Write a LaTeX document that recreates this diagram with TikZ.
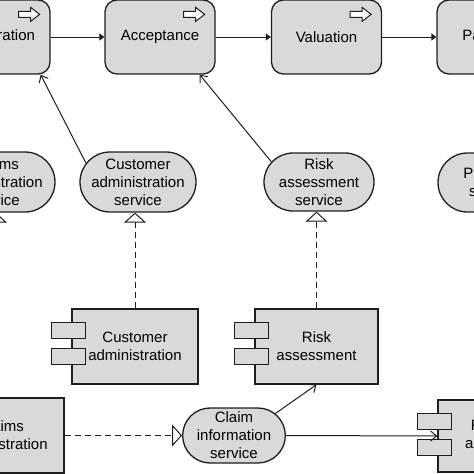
\documentclass[tikz,border=0pt]{standalone}
\usepackage{fontspec}
\setmainfont{Liberation Sans}
\usetikzlibrary{arrows.meta,calc,shapes.misc}
\definecolor{boxgray}{RGB}{217,217,217}
\definecolor{edge}{RGB}{30,30,30}
\begin{document}
\begin{tikzpicture}[x=1pt,y=-1pt,
  font=\fontsize{15}{18}\selectfont,
  proc/.style={rectangle, rounded corners=12pt, draw=edge, fill=boxgray, line width=1.3pt, minimum width=110pt, minimum height=74pt, inner sep=0pt},
  serv/.style={rounded rectangle, draw=edge, fill=boxgray, line width=1.3pt, align=center, inner sep=1pt},
  comp/.style={rectangle, draw=edge, fill=boxgray, line width=1.3pt, align=center, minimum width=126pt, minimum height=75pt, inner sep=0pt},
  tabbox/.style={draw=edge, fill=boxgray, line width=1.3pt},
  glyph/.style={draw=edge, fill=white, line width=1pt, line join=miter},
  trig/.style={draw=edge, line width=1pt, -{Triangle[length=5pt,width=7pt]}},
  used/.style={draw=edge, line width=1pt, -{Straight Barb[length=6pt,width=10pt]}},
  real/.style={draw=edge, line width=1pt, dash pattern=on 6pt off 4pt, -{Triangle[open,length=10pt,width=22pt,fill=white]}}
]
\useasboundingbox (0,0) rectangle (474,474);
\clip (0,0) rectangle (474,474);

% business processes
\node[proc] (reg) at (-5,37) {Registration};
\node[proc] (acc) at (160,37) {Acceptance};
\node[proc] (val) at (326.5,37) {Valuation};
\node[proc] (pay) at (492,37) {Payment};
\foreach \n in {reg,acc,val,pay} {
  \draw[glyph] ($(\n.north east)+(-32,12)$) -- ++(12,0) -- ++(0,-4) -- ++(9,7) -- ++(-9,7) -- ++(0,-4) -- ++(-12,0) -- cycle;
}

% application services
\node[serv, minimum width=120pt, minimum height=60pt] (clas) at (-4,182) {Claims\\administration\\service};
\node[serv, minimum width=118pt, minimum height=60pt] (cas) at (138,182) {Customer\\administration\\service};
\node[serv, minimum width=112pt, minimum height=58pt] (ras) at (319,182) {Risk\\assessment\\service};
\node[serv, minimum width=112pt, minimum height=59pt] (pas) at (493,182.5) {Payment\\service};

% application components
\node[comp] (cac) at (135,346.5) {Customer\\administration};
\node[comp, minimum width=123pt] (rac) at (316.5,346.5) {Risk\\assessment};
\node[comp] (cla) at (1,435.5) {Claims\\administration};
\node[comp, minimum height=72pt] (fin) at (501,436) {Financial\\application};
\foreach \c in {cac,rac,cla,fin} {
  \draw[tabbox] ($(\c.north west)+(-20,14)$) rectangle ++(34,16);
  \draw[tabbox] ($(\c.north west)+(-20,40)$) rectangle ++(34,16);
}

% claim information service
\node[serv, minimum width=102pt, minimum height=55pt] (cis) at (234,435.5) {Claim\\information\\service};

% triggering
\draw[trig] (reg.east) -- (acc.west);
\draw[trig] (acc.east) -- (val.west);
\draw[trig] (val.east) -- (pay.west);

% used by
\draw[used] (cas.160) -- ($(reg.south east)+(-10,0)$);
\draw[used] (ras.157) -- ($(acc.south east)+(-16,0)$);
\draw[used] (cis.28) -- (rac.south);
\draw[used] (cis.east) -- (fin.west);

% realization
\draw[real] (cac.north) -- (cac.north |- cas.south);
\draw[real] (rac.north) -- (rac.north |- ras.south);
\draw[real] (clas.south |- cla.north) -- (clas.south);
\draw[real] (cla.east) -- (cis.west);
\end{tikzpicture}
\end{document}
